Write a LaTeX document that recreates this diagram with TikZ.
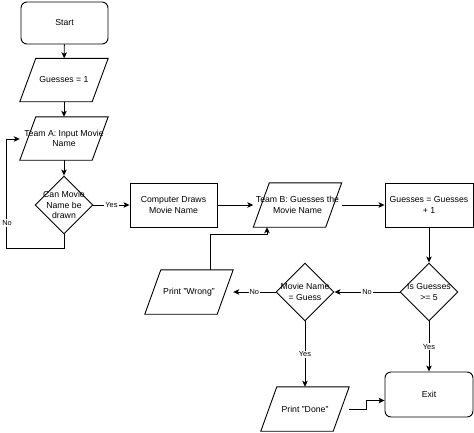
\documentclass[tikz,border=0pt]{standalone}
\usepackage{fontspec}
\setmainfont{Liberation Sans}
\usetikzlibrary{shapes.geometric,arrows.meta}
\begin{document}
\begin{tikzpicture}[x=1pt,y=-1pt,
  every node/.style={font=\fontsize{8.7}{10.5}\selectfont},
  base/.style={draw=black,line width=0.9pt,fill=white,inner sep=0pt,align=center},
  roundbox/.style={base,rounded corners=6pt,minimum width=87pt,minimum height=42pt},
  procbox/.style={base,minimum width=87pt,minimum height=44pt},
  parabox/.style={inner sep=0pt,align=center,minimum width=88pt,minimum height=43pt},
  decision/.style={base,diamond,aspect=1,minimum width=58pt,minimum height=58pt},
  txt/.style={align=center,inner sep=0pt},
  arr/.style={line width=0.9pt,-{Stealth[length=6pt,width=5.5pt,inset=1.5pt]}},
  lbl/.style={fill=white,inner sep=1pt,font=\fontsize{7.4}{9}\selectfont}
]
\useasboundingbox (0,0) rectangle (474,432);

% parallelogram drawing helper
\newcommand{\paradraw}[1]{%
  \draw[line width=0.9pt,fill=white] ([xshift=16pt]#1.north west) -- (#1.north east)
    -- ([xshift=-16pt]#1.south east) -- (#1.south west) -- cycle;}

% nodes
\node[roundbox] (start) at (64.5,23) {Start};

\coordinate (g1c) at (64,80);
\node[parabox] (g1) at (g1c) {};
\paradraw{g1}
\node[txt] (g1t) at (g1c) {Guesses = 1};

\coordinate (tac) at (64,138.5);
\node[parabox] (ta) at (tac) {};
\paradraw{ta}
\node[txt] (tat) at (tac) {Team A: Input Movie\\Name};

\node[decision,label={[txt]center:Can Movie\\Name be\\drawn}] (cm) at (64,205) {};

\node[procbox] (cd) at (173.5,205) {Computer Draws\\Movie Name};

\coordinate (tbc) at (297.5,205);
\node[parabox,minimum height=44pt] (tb) at (tbc) {};
\paradraw{tb}
\node[txt] (tbt) at (tbc) {Team B: Guesses the\\Movie Name};

\node[procbox,minimum width=88pt] (gg) at (429,205) {Guesses = Guesses\\+ 1};

\node[decision,label={[txt]center:Is Guesses\\>= 5}] (ig) at (429,292) {};
\node[decision,label={[txt]center:Movie Name\\= Guess}] (mn) at (305,292) {};

\coordinate (pwc) at (189,292);
\node[parabox,minimum height=44pt] (pw) at (pwc) {};
\paradraw{pw}
\node[txt] (pwt) at (pwc) {Print "Wrong"};

\coordinate (pdc) at (305,409);
\node[parabox,minimum height=44pt] (pd) at (pdc) {};
\paradraw{pd}
\node[txt] (pdt) at (pdc) {Print "Done"};

\node[roundbox,minimum width=88pt,minimum height=45pt] (exit) at (429,394.5) {Exit};

% connectors
\draw[arr] (start) -- (g1);
\draw[arr] (g1) -- (ta);
\draw[arr] (ta) -- (cm);
\coordinate (loopa) at (64,248);
\coordinate (loopb) at (6,248);
\coordinate (loopc) at (6,139);
\draw[arr] (cm.south) -- (loopa) -- (loopb) -- (loopc) -- ([yshift=-0.5pt]ta.west);
\node[lbl] (lno1) at (7,223) {No};

\draw[arr] (cm.east) -- node[lbl] (lyes1) {Yes} (cd.west);
\draw[arr] (cd.east) -- (tb.west);
\draw[arr] (tb.east) -- (gg.west);
\draw[arr] (gg.south) -- (ig.north);
\draw[arr] (ig.west) -- node[lbl] (lno2) {No} (mn.east);
\draw[arr] (mn.west) -- node[lbl] (lno3) {No} (pw.east);
\draw[arr] ([xshift=21pt]pw.north) -- ++(0,-35) -| ([xshift=-30.5pt]tb.south);
\draw[arr] (mn.south) -- node[lbl] (lyes2) {Yes} (pd.north);
\draw[arr] (ig.south) -- node[lbl] (lyes3) {Yes} (exit.north);
\draw[arr] (pd.east) -- ++(17,0) |- ([yshift=-6pt]exit.west);
\end{tikzpicture}
\end{document}
